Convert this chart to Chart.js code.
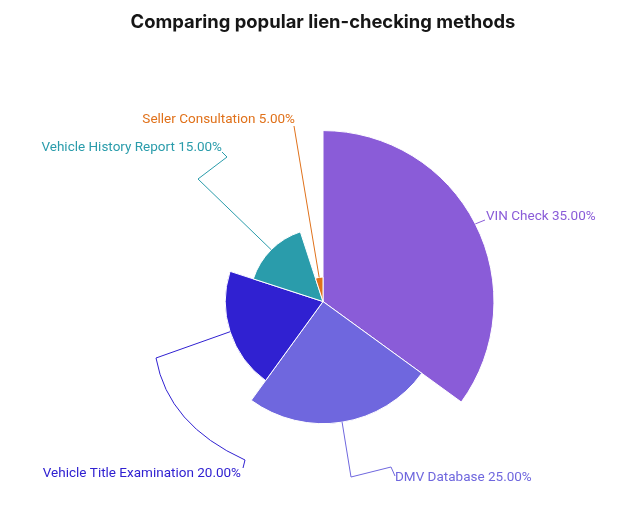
<!DOCTYPE html>
<html lang="en">
<head>
  <meta charset="UTF-8" />
  <title>Comparing popular lien-checking methods</title>
  <script src="https://cdn.jsdelivr.net/npm/chart.js"></script>
  <style>
    body {
      margin: 0;
      background: #fff;
    }
    canvas {
      display: block;
    }
  </style>
</head>
<body>
  <canvas id="lienChart" width="640" height="521"></canvas>

  <script>
    // data
    const methods = ['VIN Check', 'DMV Database', 'Vehicle Title Examination', 'Vehicle History Report', 'Seller Consultation'];
    const shares = [35, 25, 20, 15, 5];
    const colors = ['#8a5cd8', '#6f67de', '#3021d1', '#2a9cab', '#e0711a'];

    // where each label sits and how its leader line bends (after leaving the slice)
    const labelLayout = [
      { x: 486, y: 217, align: 'left',  path: [[485, 220]] },
      { x: 395, y: 478, align: 'left',  path: [[351, 477], [391, 467], [395, 476]] },
      { x: 241, y: 474, align: 'right', path: [[156, 358], ['q', 168, 425, 245, 460], [243, 468]] },
      { x: 222, y: 148, align: 'right', path: [[198, 179], [227, 157], [222, 152]] },
      { x: 295, y: 120, align: 'right', path: [[294, 126]] }
    ];

    // radius of each slice follows its value
    const variableRadius = {
      id: 'variableRadius',
      afterDatasetsUpdate(chart) {
        const meta = chart.getDatasetMeta(0);
        const full = meta.controller.outerRadius;
        const max = Math.max(...shares);
        meta.data.forEach((arc, i) => {
          arc.outerRadius = full * shares[i] / max;
        });
      }
    };

    const sliceLabels = {
      id: 'sliceLabels',
      afterDatasetsDraw(chart) {
        const ctx = chart.ctx;
        const meta = chart.getDatasetMeta(0);
        ctx.save();
        ctx.font = '13.5px Roboto';
        ctx.textBaseline = 'middle';
        ctx.lineWidth = 1;
        meta.data.forEach((arc, i) => {
          const lay = labelLayout[i];
          const mid = (arc.startAngle + arc.endAngle) / 2;
          const sx = arc.x + Math.cos(mid) * arc.outerRadius;
          const sy = arc.y + Math.sin(mid) * arc.outerRadius;
          ctx.strokeStyle = colors[i];
          ctx.beginPath();
          ctx.moveTo(sx, sy);
          lay.path.forEach(p => {
            if (p[0] === 'q') ctx.quadraticCurveTo(p[1], p[2], p[3], p[4]);
            else ctx.lineTo(p[0], p[1]);
          });
          ctx.stroke();
          ctx.fillStyle = colors[i];
          ctx.textAlign = lay.align;
          ctx.fillText(methods[i] + ' ' + shares[i].toFixed(2) + '%', lay.x, lay.y);
        });
        ctx.restore();
      }
    };

    new Chart(document.getElementById('lienChart'), {
      type: 'pie',
      data: {
        labels: methods,
        datasets: [{
          data: shares,
          backgroundColor: colors,
          borderColor: '#ffffff',
          borderWidth: 1
        }]
      },
      options: {
        responsive: false,
        animation: false,
        layout: {
          padding: { top: 0, bottom: 48, left: 6, right: 0 }
        },
        plugins: {
          legend: { display: false },
          tooltip: { enabled: false },
          title: {
            display: true,
            text: 'Comparing popular lien-checking methods',
            color: '#161616',
            font: { family: 'Inter', size: 18.4, weight: 'bold' },
            padding: { top: 11, bottom: 97 }
          }
        }
      },
      plugins: [variableRadius, sliceLabels]
    });
  </script>
</body>
</html>
